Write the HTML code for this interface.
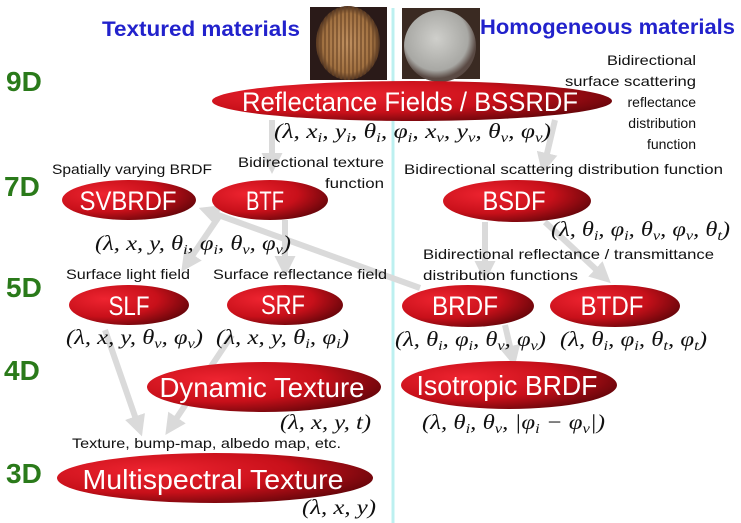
<!DOCTYPE html>
<html><head><meta charset="utf-8"><style>
body{margin:0;background:#fff;}
svg{display:block;font-family:"Liberation Sans",sans-serif;}
.n{fill:#fff;text-anchor:middle;}
.m{font-family:"Liberation Serif",serif;font-style:italic;font-size:21px;fill:#111;}
.l{font-size:14px;fill:#111;}
.d{font-size:28px;font-weight:bold;fill:#2a7a1a;}
</style></head><body>
<svg width="741" height="523" viewBox="0 0 741 523" xmlns="http://www.w3.org/2000/svg">
<defs>
<radialGradient id="g" cx="0.3" cy="0.35" r="0.8">
<stop offset="0" stop-color="#ee2430"/><stop offset="0.55" stop-color="#c8101a"/><stop offset="1" stop-color="#5a0408"/>
</radialGradient>
<radialGradient id="b1" cx="0.5" cy="0.5" r="0.5"><stop offset="0" stop-color="#c09060"/><stop offset="0.8" stop-color="#a07040"/><stop offset="1" stop-color="#4a3020"/></radialGradient>
<radialGradient id="b2" cx="0.45" cy="0.4" r="0.55"><stop offset="0" stop-color="#cfcfcb"/><stop offset="0.8" stop-color="#a8a8a4"/><stop offset="1" stop-color="#5a4a44"/></radialGradient>
<pattern id="st" width="4" height="4" patternUnits="userSpaceOnUse"><rect width="2" height="4" fill="#6a4424" opacity="0.6"/></pattern>
<marker id="a" markerWidth="3.5" markerHeight="3.5" refX="1.5" refY="1.75" orient="auto"><path d="M0,0 L3.5,1.75 L0,3.5z" fill="#dadada"/></marker>
</defs>
<line x1="393" y1="8" x2="393" y2="523" stroke="#bdf0f0" stroke-width="3"/>
<rect x="310" y="7" width="77" height="73" fill="#2a1a18"/>
<ellipse cx="348" cy="43" rx="32" ry="37" fill="url(#b1)"/>
<ellipse cx="348" cy="43" rx="32" ry="37" fill="url(#st)"/>
<rect x="402" y="8" width="78" height="71" fill="#3a2a22"/>
<ellipse cx="440" cy="46" rx="36" ry="36" fill="url(#b2)"/>
<text x="102" y="36" font-size="21" font-weight="bold" fill="#2222cc" textLength="198" lengthAdjust="spacingAndGlyphs">Textured materials</text>
<text x="480" y="34" font-size="21" font-weight="bold" fill="#2222cc" textLength="255" lengthAdjust="spacingAndGlyphs">Homogeneous materials</text>
<g stroke="#dadada" stroke-width="6" fill="none" marker-end="url(#a)">
<line x1="272" y1="120" x2="272" y2="162"/>
<line x1="555" y1="120" x2="545" y2="162"/>
<line x1="420" y1="288" x2="210" y2="212"/>
<line x1="220" y1="215" x2="188" y2="262"/>
<line x1="285" y1="220" x2="285" y2="265"/>
<line x1="105" y1="330" x2="138" y2="425"/>
<line x1="232" y1="335" x2="172" y2="425"/>
<line x1="485" y1="222" x2="485" y2="270"/>
<line x1="545" y1="222" x2="602" y2="275"/>
<line x1="505" y1="325" x2="512" y2="355"/>
</g>
<g fill="url(#g)">
<ellipse cx="412" cy="101" rx="200" ry="20"/>
<ellipse cx="129" cy="200" rx="67" ry="20"/>
<ellipse cx="270" cy="200" rx="58" ry="20"/>
<ellipse cx="517" cy="201" rx="74" ry="21"/>
<ellipse cx="129" cy="305" rx="60" ry="20"/>
<ellipse cx="285" cy="305" rx="58" ry="20"/>
<ellipse cx="468" cy="306" rx="66" ry="21"/>
<ellipse cx="615" cy="306" rx="65" ry="21"/>
<ellipse cx="264" cy="387" rx="117" ry="25"/>
<ellipse cx="509" cy="385" rx="108" ry="24"/>
<ellipse cx="215" cy="478" rx="158" ry="25"/>
</g>
<g class="n" lengthAdjust="spacingAndGlyphs">
<text x="410" y="111" font-size="27" textLength="336" lengthAdjust="spacingAndGlyphs">Reflectance Fields / BSSRDF</text>
<text x="128" y="210" font-size="27" textLength="97" lengthAdjust="spacingAndGlyphs">SVBRDF</text>
<text x="265" y="210" font-size="27" textLength="38" lengthAdjust="spacingAndGlyphs">BTF</text>
<text x="514" y="210" font-size="27" textLength="63" lengthAdjust="spacingAndGlyphs">BSDF</text>
<text x="129" y="315" font-size="27" textLength="41" lengthAdjust="spacingAndGlyphs">SLF</text>
<text x="283" y="314" font-size="27" textLength="44" lengthAdjust="spacingAndGlyphs">SRF</text>
<text x="465" y="315" font-size="27" textLength="66" lengthAdjust="spacingAndGlyphs">BRDF</text>
<text x="612" y="315" font-size="27" textLength="63" lengthAdjust="spacingAndGlyphs">BTDF</text>
<text x="262" y="397" font-size="28" textLength="205" lengthAdjust="spacingAndGlyphs">Dynamic Texture</text>
<text x="507" y="395" font-size="28" textLength="181" lengthAdjust="spacingAndGlyphs">Isotropic BRDF</text>
<text x="213" y="489" font-size="28" textLength="261" lengthAdjust="spacingAndGlyphs">Multispectral Texture</text>
</g>
<g class="d"><text x="6" y="91">9D</text><text x="4" y="196">7D</text><text x="6" y="297">5D</text><text x="4" y="380">4D</text><text x="6" y="483">3D</text></g>
<g class="l">
<text x="607" y="65" textLength="89" lengthAdjust="spacingAndGlyphs">Bidirectional</text>
<text x="565" y="86" textLength="131" lengthAdjust="spacingAndGlyphs">surface scattering</text>
<text x="696" y="107" text-anchor="end">reflectance</text>
<text x="696" y="128" text-anchor="end">distribution</text>
<text x="696" y="149" text-anchor="end">function</text>
<text x="52" y="174" textLength="160" lengthAdjust="spacingAndGlyphs">Spatially varying BRDF</text>
<text x="238" y="167" textLength="146" lengthAdjust="spacingAndGlyphs">Bidirectional texture</text>
<text x="325" y="188" textLength="59" lengthAdjust="spacingAndGlyphs">function</text>
<text x="404" y="174" textLength="319" lengthAdjust="spacingAndGlyphs">Bidirectional scattering distribution function</text>
<text x="423" y="259" textLength="291" lengthAdjust="spacingAndGlyphs">Bidirectional reflectance / transmittance</text>
<text x="423" y="280" textLength="155" lengthAdjust="spacingAndGlyphs">distribution functions</text>
<text x="66" y="279" textLength="124" lengthAdjust="spacingAndGlyphs">Surface light field</text>
<text x="213" y="279" textLength="174" lengthAdjust="spacingAndGlyphs">Surface reflectance field</text>
<text x="72" y="448" textLength="269" lengthAdjust="spacingAndGlyphs">Texture, bump-map, albedo map, etc.</text>
</g>
<g class="m">
<text x="274" y="138" textLength="277" lengthAdjust="spacingAndGlyphs">(λ, x<tspan font-size="14" dy="4">i</tspan><tspan dy="-4">, y</tspan><tspan font-size="14" dy="4">i</tspan><tspan dy="-4">, θ</tspan><tspan font-size="14" dy="4">i</tspan><tspan dy="-4">, φ</tspan><tspan font-size="14" dy="4">i</tspan><tspan dy="-4">, x</tspan><tspan font-size="14" dy="4">v</tspan><tspan dy="-4">, y</tspan><tspan font-size="14" dy="4">v</tspan><tspan dy="-4">, θ</tspan><tspan font-size="14" dy="4">v</tspan><tspan dy="-4">, φ</tspan><tspan font-size="14" dy="4">v</tspan><tspan dy="-4">)</tspan></text>
<text x="95" y="250" textLength="196" lengthAdjust="spacingAndGlyphs">(λ, x, y, θ<tspan font-size="14" dy="4">i</tspan><tspan dy="-4">, φ</tspan><tspan font-size="14" dy="4">i</tspan><tspan dy="-4">, θ</tspan><tspan font-size="14" dy="4">v</tspan><tspan dy="-4">, φ</tspan><tspan font-size="14" dy="4">v</tspan><tspan dy="-4">)</tspan></text>
<text x="551" y="236" textLength="179" lengthAdjust="spacingAndGlyphs">(λ, θ<tspan font-size="14" dy="4">i</tspan><tspan dy="-4">, φ</tspan><tspan font-size="14" dy="4">i</tspan><tspan dy="-4">, θ</tspan><tspan font-size="14" dy="4">v</tspan><tspan dy="-4">, φ</tspan><tspan font-size="14" dy="4">v</tspan><tspan dy="-4">, θ</tspan><tspan font-size="14" dy="4">t</tspan><tspan dy="-4">)</tspan></text>
<text x="66" y="344" textLength="137" lengthAdjust="spacingAndGlyphs">(λ, x, y, θ<tspan font-size="14" dy="4">v</tspan><tspan dy="-4">, φ</tspan><tspan font-size="14" dy="4">v</tspan><tspan dy="-4">)</tspan></text>
<text x="216" y="344" textLength="133" lengthAdjust="spacingAndGlyphs">(λ, x, y, θ<tspan font-size="14" dy="4">i</tspan><tspan dy="-4">, φ</tspan><tspan font-size="14" dy="4">i</tspan><tspan dy="-4">)</tspan></text>
<text x="395" y="346" textLength="151" lengthAdjust="spacingAndGlyphs">(λ, θ<tspan font-size="14" dy="4">i</tspan><tspan dy="-4">, φ</tspan><tspan font-size="14" dy="4">i</tspan><tspan dy="-4">, θ</tspan><tspan font-size="14" dy="4">v</tspan><tspan dy="-4">, φ</tspan><tspan font-size="14" dy="4">v</tspan><tspan dy="-4">)</tspan></text>
<text x="560" y="346" textLength="147" lengthAdjust="spacingAndGlyphs">(λ, θ<tspan font-size="14" dy="4">i</tspan><tspan dy="-4">, φ</tspan><tspan font-size="14" dy="4">i</tspan><tspan dy="-4">, θ</tspan><tspan font-size="14" dy="4">t</tspan><tspan dy="-4">, φ</tspan><tspan font-size="14" dy="4">t</tspan><tspan dy="-4">)</tspan></text>
<text x="280" y="429" textLength="91" lengthAdjust="spacingAndGlyphs">(λ, x, y, t)</text>
<text x="422" y="429" textLength="183" lengthAdjust="spacingAndGlyphs">(λ, θ<tspan font-size="14" dy="4">i</tspan><tspan dy="-4">, θ</tspan><tspan font-size="14" dy="4">v</tspan><tspan dy="-4">, |φ</tspan><tspan font-size="14" dy="4">i</tspan><tspan dy="-4"> − φ</tspan><tspan font-size="14" dy="4">v</tspan><tspan dy="-4">|)</tspan></text>
<text x="302" y="514" textLength="74" lengthAdjust="spacingAndGlyphs">(λ, x, y)</text>
</g>
</svg>
</body></html>
